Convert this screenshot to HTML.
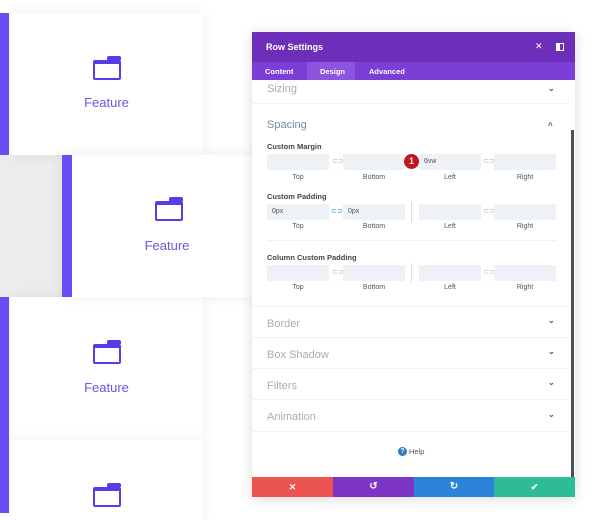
<!DOCTYPE html><html><head><style>
body{margin:0;width:610px;height:513px;position:relative;overflow:hidden;background:#fff;font-family:"Liberation Sans",sans-serif}
.a{position:absolute}
.card{position:absolute;background:#fff;box-shadow:0 0 14px rgba(0,0,0,.07);border-radius:4px}
.feat{position:absolute;width:100%;text-align:center;color:#6f55d8;font-size:13px}
.ic{position:absolute;width:24px;height:14px;border:2px solid #5b3be8;border-top-width:4px;border-radius:2px}
.ic:before{content:"";position:absolute;right:-2px;top:-8px;width:14px;height:4px;background:#5b3be8;border-radius:2px 2px 0 0}
.inp{position:absolute;height:16px;width:62px;background:#eef2f7;font-size:7px;color:#555;line-height:16px;text-indent:5px}
.lb{position:absolute;font-size:7px;color:#555;width:62px;text-align:center}
.hd{position:absolute;left:267px;font-size:7.5px;font-weight:bold;color:#444}
.sec{position:absolute;left:267px;font-size:11px;color:#a8adb5}
.sep{position:absolute;left:253px;width:317px;height:1px;background:#eef0f3}
.chev{position:absolute;left:548px;font-size:8px;color:#555;font-weight:bold}
.lk{position:absolute;font-size:7px;color:#bbb}
</style></head><body>
<div class="a" style="left:0;top:13px;width:9px;height:142px;background:#6c4df5"></div>
<div class="a" style="left:0;top:297px;width:9px;height:216px;background:#6c4df5"></div>
<div class="a" style="left:0;top:155px;width:62px;height:142px;background:#ececec"></div>
<div class="card" style="left:10px;top:13px;width:193px;height:142px"><div class="ic" style="left:83px;top:47px"></div><div class="feat" style="top:82px">Feature</div></div>
<div class="card" style="left:10px;top:297px;width:193px;height:143px"><div class="ic" style="left:83px;top:47px"></div><div class="feat" style="top:83px">Feature</div></div>
<div class="card" style="left:10px;top:440px;width:193px;height:80px"><div class="ic" style="left:83px;top:47px"></div></div>
<div class="card" style="left:62px;top:155px;width:200px;height:142px;border-radius:0"><div class="a" style="left:0;top:0;width:10px;height:142px;background:#6c4df5"></div><div class="ic" style="left:93px;top:46px"></div><div class="feat" style="left:10px;width:190px;top:83px">Feature</div></div>

<div class="a" style="left:252px;top:32px;width:323px;height:465px;background:#fff;box-shadow:0 2px 12px rgba(0,0,0,.15)"></div>
<div class="a" style="left:252px;top:32px;width:323px;height:30px;background:#6d2fba;color:#fff;font-size:9px;font-weight:bold;line-height:30px;text-indent:14px">Row Settings</div>
<div class="a" style="left:535px;top:41px;color:#fff;font-size:9px">✕</div>
<div class="a" style="left:556px;top:43px;width:6px;height:6px;border:1px solid #fff;background:linear-gradient(90deg,#fff 50%,transparent 50%)"></div>
<div class="a" style="left:252px;top:62px;width:323px;height:18px;background:#7b3ed7"></div>
<div class="a" style="left:307px;top:62px;width:48px;height:18px;background:#8c55e0"></div>
<div class="a" style="left:265px;top:67px;color:#fff;font-size:7.5px;font-weight:bold">Content</div>
<div class="a" style="left:320px;top:67px;color:#fff;font-size:7.5px;font-weight:bold">Design</div>
<div class="a" style="left:369px;top:67px;color:#fff;font-size:7.5px;font-weight:bold">Advanced</div>

<div class="sec" style="top:83px">Sizing</div><div class="chev" style="top:84px">⌄</div>
<div class="sep" style="top:103px"></div>
<div class="sec" style="top:119px;color:#6d8fa8">Spacing</div><div class="chev" style="top:121px">^</div>
<div class="hd" style="top:142px">Custom Margin</div>
<div class="inp" style="left:267px;top:154px"></div><div class="inp" style="left:343px;top:154px"></div><div class="inp" style="left:419px;top:154px">6vw</div><div class="inp" style="left:494px;top:154px"></div>
<div class="a" style="left:404px;top:154px;width:15px;height:15px;border-radius:50%;background:#c0161c;color:#fff;font-size:9px;text-align:center;line-height:15px;font-weight:bold">1</div>
<div class="lk" style="left:332px;top:157px">⊂⊃</div><div class="lk" style="left:483px;top:157px">⊂⊃</div>
<div class="lb" style="left:267px;top:174px">Top</div><div class="lb" style="left:343px;top:174px">Bottom</div><div class="lb" style="left:419px;top:174px">Left</div><div class="lb" style="left:494px;top:174px">Right</div>
<div class="hd" style="top:192px">Custom Padding</div>
<div class="inp" style="left:267px;top:204px">0px</div><div class="inp" style="left:343px;top:204px">0px</div><div class="inp" style="left:419px;top:204px"></div><div class="inp" style="left:494px;top:204px"></div>
<div class="lk" style="left:331px;top:207px;color:#2c8fd6">⊂⊃</div><div class="lk" style="left:483px;top:207px">⊂⊃</div>
<div class="a" style="left:411px;top:202px;width:1px;height:20px;background:#ddd"></div>
<div class="lb" style="left:267px;top:223px">Top</div><div class="lb" style="left:343px;top:223px">Bottom</div><div class="lb" style="left:419px;top:223px">Left</div><div class="lb" style="left:494px;top:223px">Right</div>
<div class="sep" style="left:267px;width:290px;top:240px"></div>
<div class="hd" style="top:253px">Column Custom Padding</div>
<div class="inp" style="left:267px;top:265px"></div><div class="inp" style="left:343px;top:265px"></div><div class="inp" style="left:419px;top:265px"></div><div class="inp" style="left:494px;top:265px"></div>
<div class="lk" style="left:332px;top:268px">⊂⊃</div><div class="lk" style="left:483px;top:268px">⊂⊃</div>
<div class="a" style="left:411px;top:263px;width:1px;height:20px;background:#ddd"></div>
<div class="lb" style="left:267px;top:284px">Top</div><div class="lb" style="left:343px;top:284px">Bottom</div><div class="lb" style="left:419px;top:284px">Left</div><div class="lb" style="left:494px;top:284px">Right</div>
<div class="sep" style="top:306px"></div>
<div class="sec" style="top:318px">Border</div><div class="chev" style="top:316px">⌄</div>
<div class="sep" style="top:337px"></div>
<div class="sec" style="top:349px">Box Shadow</div><div class="chev" style="top:347px">⌄</div>
<div class="sep" style="top:368px"></div>
<div class="sec" style="top:380px">Filters</div><div class="chev" style="top:378px">⌄</div>
<div class="sep" style="top:399px"></div>
<div class="sec" style="top:411px">Animation</div><div class="chev" style="top:410px">⌄</div>
<div class="sep" style="top:431px"></div>
<div class="a" style="left:398px;top:447px;width:9px;height:9px;border-radius:50%;background:#2f7bbf;color:#fff;font-size:7px;text-align:center;line-height:9px;font-weight:bold">?</div>
<div class="a" style="left:409px;top:447px;font-size:7.5px;color:#555">Help</div>
<div class="a" style="left:571px;top:130px;width:3px;height:347px;background:#4a4f5a"></div>
<div class="a" style="left:252px;top:477px;width:81px;height:20px;background:#ec5451;color:#fff;text-align:center;line-height:20px;font-size:9px;font-weight:bold">✕</div>
<div class="a" style="left:333px;top:477px;width:81px;height:20px;background:#7d35c4;color:#fff;text-align:center;line-height:20px;font-size:10px;font-weight:bold">↺</div>
<div class="a" style="left:414px;top:477px;width:80px;height:20px;background:#2b83d9;color:#fff;text-align:center;line-height:20px;font-size:10px;font-weight:bold">↻</div>
<div class="a" style="left:494px;top:477px;width:81px;height:20px;background:#2dbb98;color:#fff;text-align:center;line-height:20px;font-size:9px;font-weight:bold">✔</div>
</body></html>
